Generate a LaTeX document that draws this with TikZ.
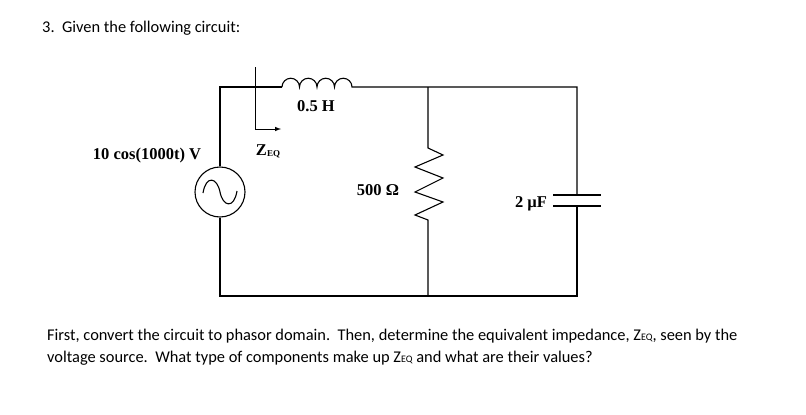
\documentclass[tikz,border=0pt]{standalone}
\usepackage{fontspec}
\setmainfont{Liberation Serif}
\newfontfamily\calfont{Carlito}
\begin{document}
\begin{tikzpicture}[x=1pt,y=-1pt,
  w/.style={line width=1.1pt},
  lbl/.style={font=\bfseries\fontsize{16.5}{19}\selectfont,inner sep=0pt},
  txt/.style={font=\calfont\fontsize{16.4}{19}\selectfont,anchor=west,inner sep=0pt}]
\useasboundingbox (0,0) rectangle (806,415);
\coordinate (tl) at (220,87); \coordinate (bl) at (220,296);
\coordinate (tm) at (428,87); \coordinate (bm) at (428,296);
\coordinate (tr) at (577,87); \coordinate (br) at (577,296);
\node[circle,draw,w,minimum size=50pt,inner sep=0pt] (src) at (220,192) {};
\draw[w] (src.north) -- (tl) -- (282,87);
\draw[w] (282,87) arc[start angle=180,end angle=360,radius=8.75]
  arc[start angle=180,end angle=360,radius=8.75]
  arc[start angle=180,end angle=360,radius=8.75]
  arc[start angle=180,end angle=360,radius=8.75] -- (tm) -- (tr) -- (577,195);
\draw[w] (src.south) -- (bl) -- (bm) -- (br) -- (577,206);
\draw[w] (tm) -- (428,148) -- (443,155) -- (415,167) -- (443,178) -- (415,192) -- (443,202) -- (415,215) -- (428,220) -- (bm);
\draw[w] (553,195) -- (601,195) (553,206) -- (601,206);
\draw[w] (203,193) .. controls (206,175) and (217,177) .. (220,192) .. controls (223,207) and (234,209) .. (237,191);
\draw[line width=1pt,-latex] (255,67) -- (255,129) -- (281,129);
\node[lbl] (l1) at (316,106) {0.5 H};
\node[lbl] (l2) at (268,151) {Z\raisebox{-1pt}{\fontsize{9}{10}\selectfont EQ}};
\node[lbl] (l3) at (378,190) {500 Ω};
\node[lbl] (l4) at (531,204) {2 µF};
\node[lbl] (l5) at (147,156) {10 cos(1000t) V};
\node[txt] (t1) at (42,28) {3.\ \ Given the following circuit:};
\node[txt] (t2) at (47,336) {First, convert the circuit to phasor domain.\ \ Then, determine the equivalent impedance, Z{\fontsize{10}{11}\selectfont EQ}, seen by the};
\node[txt] (t3) at (47,358) {voltage source.\ \ What type of components make up Z{\fontsize{10}{11}\selectfont EQ} and what are their values?};
\end{tikzpicture}
\end{document}
